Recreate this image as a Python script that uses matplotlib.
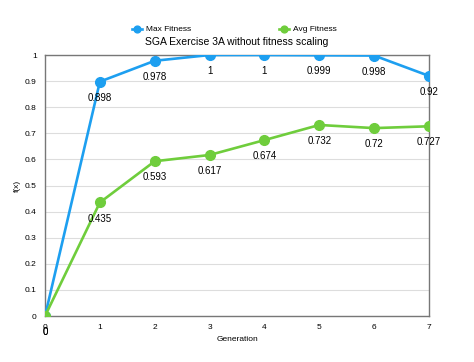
import matplotlib.pyplot as plt
import numpy as np

plt.rcParams['font.family'] = ['Liberation Sans', 'DejaVu Sans']

generations = [0, 1, 2, 3, 4, 5, 6, 7]
max_fitness = [0, 0.898, 0.978, 1, 1, 0.999, 0.998, 0.92]
avg_fitness = [0, 0.435, 0.593, 0.617, 0.674, 0.732, 0.72, 0.727]
max_labels = ['0', '0.898', '0.978', '1', '1', '0.999', '0.998', '0.92']
avg_labels = ['0', '0.435', '0.593', '0.617', '0.674', '0.732', '0.72', '0.727']

blue = '#1d9ff0'
green = '#6fcd3c'

fig = plt.figure(figsize=(4.74, 3.62), dpi=100)
ax = fig.add_axes([0.095, 0.127, 0.81, 0.721])

ax.plot(generations, max_fitness, color=blue, linewidth=1.9, marker='o',
        markersize=7, label='Max Fitness', zorder=3)
ax.plot(generations, avg_fitness, color=green, linewidth=1.9, marker='o',
        markersize=7, label='Avg Fitness', zorder=3)

for x, y, s in zip(generations, max_fitness, max_labels):
    ax.annotate(s, (x, y), xytext=(0, -8), textcoords='offset points',
                ha='center', va='top', fontsize=7, zorder=4)
for x, y, s in zip(generations, avg_fitness, avg_labels):
    ax.annotate(s, (x, y), xytext=(0, -8), textcoords='offset points',
                ha='center', va='top', fontsize=7, zorder=4)

ax.set_xlim(0, 7)
ax.set_ylim(0, 1)
ax.set_xticks(generations)
ax.set_yticks(np.arange(0, 1.01, 0.1))
ax.set_yticklabels(['0', '0.1', '0.2', '0.3', '0.4', '0.5', '0.6', '0.7', '0.8', '0.9', '1'])
ax.tick_params(length=0, labelsize=6, pad=6)
ax.yaxis.grid(True, color='#dddddd', linewidth=0.8)
ax.set_axisbelow(True)
for sp in ax.spines.values():
    sp.set_color('#777777')
    sp.set_linewidth(1)

ax.set_xlabel('Generation', fontsize=6, labelpad=3)
ax.set_ylabel('f(x)', fontsize=6, labelpad=3)
ax.set_title('SGA Exercise 3A without fitness scaling', fontsize=7.5, pad=7)

fig.legend(loc='upper center', bbox_to_anchor=(0.495, 0.95), ncol=2, frameon=False,
           fontsize=6, columnspacing=10.5, handlelength=1.2, handletextpad=0.5,
           markerscale=0.7)

fig.savefig('out.png', dpi=100)
